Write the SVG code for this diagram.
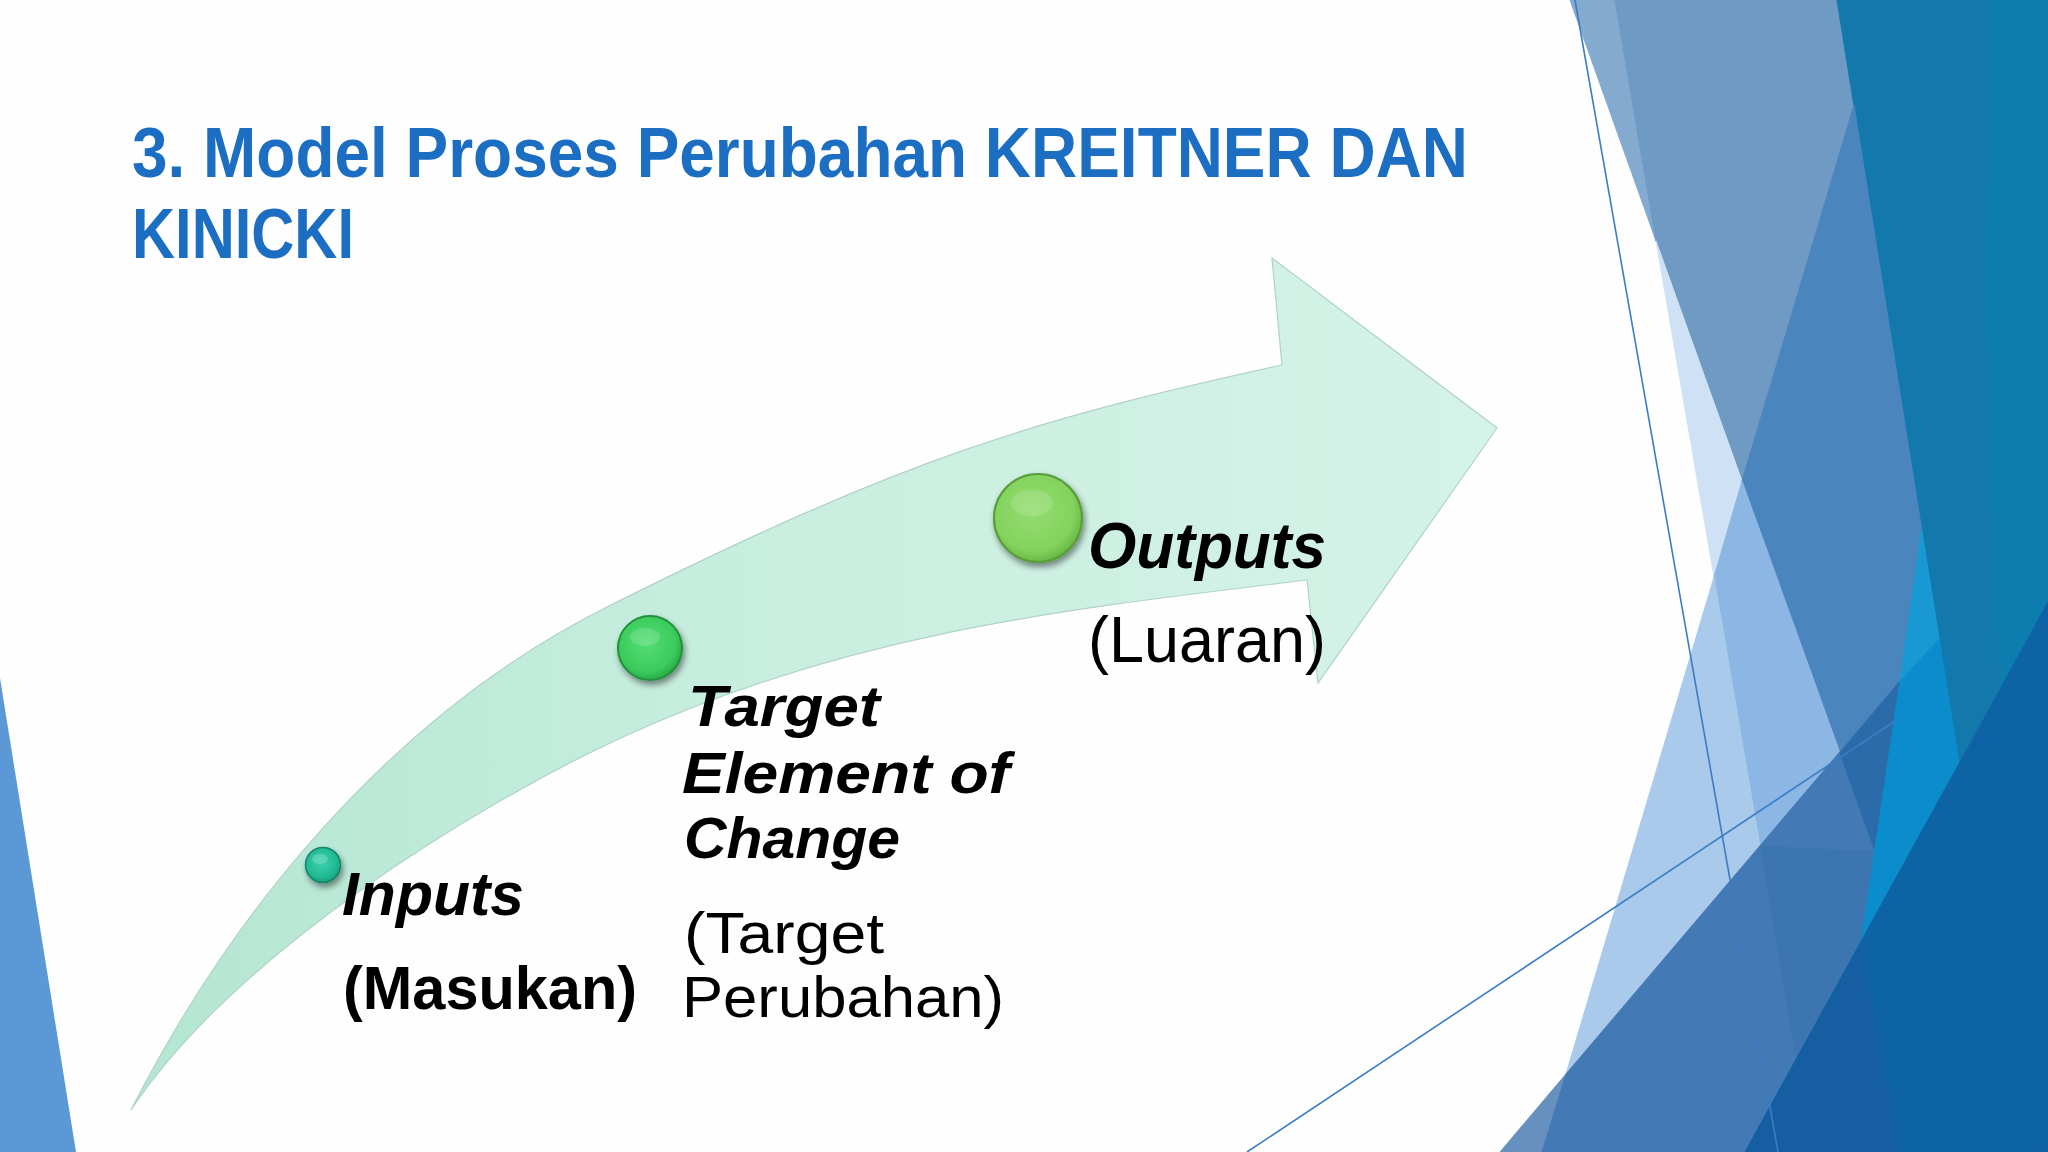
<svg xmlns="http://www.w3.org/2000/svg" width="2048" height="1152" viewBox="0 0 2048 1152">
<defs>
<style>
.title{font-family:"Liberation Sans","Arial",sans-serif;font-size:70px;font-weight:700;fill:#1B6EC2}
.lbl{font-family:"Liberation Sans","Arial",sans-serif;fill:#000}
.bi{font-weight:700;font-style:italic}
.b{font-weight:700}
.r{font-weight:400}
.thin{stroke:#3B7DC4;stroke-width:1.6;fill:none}
#decor-right polygon{stroke-width:1;stroke-linejoin:round}
</style>
<linearGradient id="arrowFill" x1="131" y1="0" x2="1497" y2="0" gradientUnits="userSpaceOnUse">
<stop offset="0" stop-color="#B4E6D2"/>
<stop offset="0.45" stop-color="#C8EEDF"/>
<stop offset="1" stop-color="#D5F3E8"/>
</linearGradient>
<radialGradient id="gTeal" cx="0.45" cy="0.42" r="0.6">
<stop offset="0" stop-color="#3FD3AE"/>
<stop offset="0.75" stop-color="#1FB892"/>
<stop offset="1" stop-color="#159A78"/>
</radialGradient>
<radialGradient id="gGreen" cx="0.45" cy="0.42" r="0.6">
<stop offset="0" stop-color="#55DD74"/>
<stop offset="0.75" stop-color="#3BCB5C"/>
<stop offset="1" stop-color="#27A845"/>
</radialGradient>
<radialGradient id="gLime" cx="0.45" cy="0.42" r="0.6">
<stop offset="0" stop-color="#94DC70"/>
<stop offset="0.75" stop-color="#83D35E"/>
<stop offset="1" stop-color="#66B544"/>
</radialGradient>
<filter id="shadow" x="-30%" y="-30%" width="170%" height="170%">
<feGaussianBlur in="SourceAlpha" stdDeviation="3"/>
<feOffset dx="2" dy="4" result="o"/>
<feComponentTransfer><feFuncA type="linear" slope="0.45"/></feComponentTransfer>
<feMerge><feMergeNode/><feMergeNode in="SourceGraphic"/></feMerge>
</filter>
</defs>

<rect x="0" y="0" width="2048" height="1152" fill="#FEFEFE"/>

<g id="decor-left">
<polygon points="0,678 76,1152 0,1152" fill="#5A99D5"/>
</g>

<g id="decor-right">
<polygon points="1570,0 1615,0 1656,241" fill="#84AAD0" stroke="#84AAD0"/>
<polygon points="1615,0 1837,0 1854,105 1742,481 1656,241" fill="#6F9AC4" stroke="#6F9AC4"/>
<polygon points="1656,241 1742,481 1714,577" fill="#CFE2F5" stroke="#CFE2F5"/>
<polygon points="1837,0 2048,0 2048,602 1959,763" fill="#1379AC" stroke="#1379AC"/>
<polygon points="1990,0 2048,0 2048,602 2000,690 1985,300" fill="#0A7EB0" opacity="0.6"/>
<polygon points="1854,105 1921.6,529 1900,681 1840,753 1742,481" fill="#4B85BD" stroke="#4B85BD"/>
<polygon points="1742,481 1840,753 1760,846 1714,577" fill="#8CB6E3" stroke="#8CB6E3"/>
<polygon points="1714,577 1760,846 1566,1074" fill="#A9CAEB" stroke="#A9CAEB"/>
<polygon points="1500,1152 1542,1152 1566,1074" fill="#6690BE" stroke="#6690BE"/>
<polygon points="1542,1152 1566,1074 1900,681 1861,943 1745,1152" fill="#4379B4" stroke="#4379B4"/>
<polygon points="1760,846 1875,851 1861,943 1745,1152 1812,1152" fill="#3C74B0" opacity="0.8"/>
<polygon points="1840,753 1900,681 1875,851" fill="#2C6BAA" stroke="#2C6BAA"/>
<polygon points="1921.6,529 1939.2,639 1900,681" fill="#1999D4" stroke="#1999D4"/>
<polygon points="1939.2,639 1959,763 1861,943 1900,681" fill="#0B8DCD" stroke="#0B8DCD"/>
<polygon points="2048,602 2048,1152 1745,1152" fill="#0E63A5" stroke="#0E63A5"/>
<polygon points="1745,1152 1861,943 1900,1152" fill="#1B5C9E" opacity="0.6"/>
<line class="thin" x1="1575" y1="0" x2="1778" y2="1152"/>
<line class="thin" x1="1247" y1="1152" x2="1895" y2="721"/>
</g>

<g id="title">
<text class="title" x="132" y="177" textLength="1336" lengthAdjust="spacingAndGlyphs">3. Model Proses Perubahan KREITNER DAN</text>
<text class="title" x="132" y="258" textLength="222" lengthAdjust="spacingAndGlyphs">KINICKI</text>
</g>

<g id="connectors">
<path id="process-arrow" d="M131,1110 C255,867 427,697 607,607 C907,457 1032,420 1282,365 L1272,258 L1497,428 L1318,683 L1307,580 C1077,608 853,631 623,737 C473,806 234,955 131,1110 Z" fill="url(#arrowFill)" stroke="#AFD3C5" stroke-width="1.2"/>
</g>

<g id="node-inputs">
<circle cx="323" cy="865" r="17.5" fill="url(#gTeal)" stroke="#12866A" stroke-width="1.5" filter="url(#shadow)"/>
<ellipse cx="320" cy="859" rx="8" ry="5" fill="#FFFFFF" opacity="0.18"/>
<text class="lbl bi" x="342" y="915" font-size="62" textLength="182" lengthAdjust="spacingAndGlyphs">Inputs</text>
<text class="lbl b" x="343" y="1009" font-size="62" textLength="294" lengthAdjust="spacingAndGlyphs">(Masukan)</text>
</g>

<g id="node-target">
<circle cx="650" cy="648" r="32" fill="url(#gGreen)" stroke="#22913D" stroke-width="2" filter="url(#shadow)"/>
<ellipse cx="645" cy="637" rx="15" ry="9" fill="#FFFFFF" opacity="0.15"/>
<text class="lbl bi" x="688" y="726" font-size="58" textLength="192" lengthAdjust="spacingAndGlyphs">Target</text>
<text class="lbl bi" x="682" y="793" font-size="58" textLength="328" lengthAdjust="spacingAndGlyphs">Element of</text>
<text class="lbl bi" x="684" y="858" font-size="58" textLength="216" lengthAdjust="spacingAndGlyphs">Change</text>
<text class="lbl r" x="684" y="953" font-size="57" textLength="200" lengthAdjust="spacingAndGlyphs">(Target</text>
<text class="lbl r" x="682" y="1017" font-size="57" textLength="322" lengthAdjust="spacingAndGlyphs">Perubahan)</text>
</g>

<g id="node-outputs">
<circle cx="1038" cy="518" r="44" fill="url(#gLime)" stroke="#5A9E3B" stroke-width="2.2" filter="url(#shadow)"/>
<ellipse cx="1032" cy="503" rx="21" ry="13" fill="#FFFFFF" opacity="0.14"/>
<text class="lbl bi" x="1088" y="568" font-size="64" textLength="238" lengthAdjust="spacingAndGlyphs">Outputs</text>
<text class="lbl r" x="1088" y="662" font-size="64" textLength="238" lengthAdjust="spacingAndGlyphs">(Luaran)</text>
</g>
</svg>
